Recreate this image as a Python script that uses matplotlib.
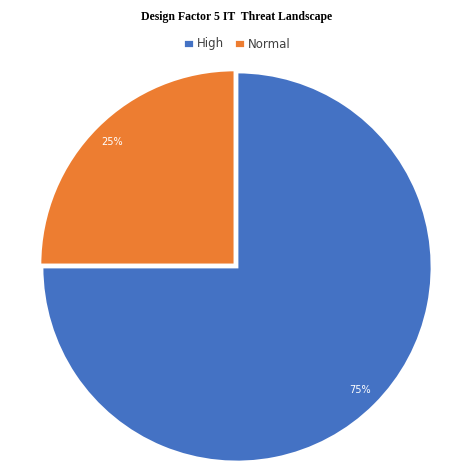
import matplotlib.pyplot as plt

labels = ['High', 'Normal']
values = [75, 25]
colors = ['#4472C4', '#ED7D31']

fig = plt.figure(figsize=(4.74, 4.75), dpi=100)
ax = fig.add_axes([(237 - 195) / 474, (475 - 267 - 195) / 475, 390 / 474, 390 / 475])

wedges, texts, autotexts = ax.pie(
    values, colors=colors, startangle=90, counterclock=False,
    explode=[0, 0.015], autopct='%d%%', pctdistance=0.89,
    wedgeprops=dict(edgecolor='white', linewidth=2),
    textprops=dict(color='white', fontsize=7))
ax.set_aspect('equal')
ax.set_xlim(-1.0, 1.0)
ax.set_ylim(-1.0, 1.0)

fig.text(0.5, 1 - 17 / 475, 'Design Factor 5 IT  Threat Landscape', ha='center', va='center',
         fontsize=8.5, fontweight='bold', family='Liberation Serif')
fig.legend(wedges, labels, loc='center', bbox_to_anchor=(0.5, 1 - 44 / 475), ncol=2,
           frameon=False, fontsize=8.5, handlelength=0.9, handleheight=0.9,
           handletextpad=0.3, columnspacing=0.8, labelcolor='#404040')

fig.savefig('out.png', dpi=100, facecolor='white')
